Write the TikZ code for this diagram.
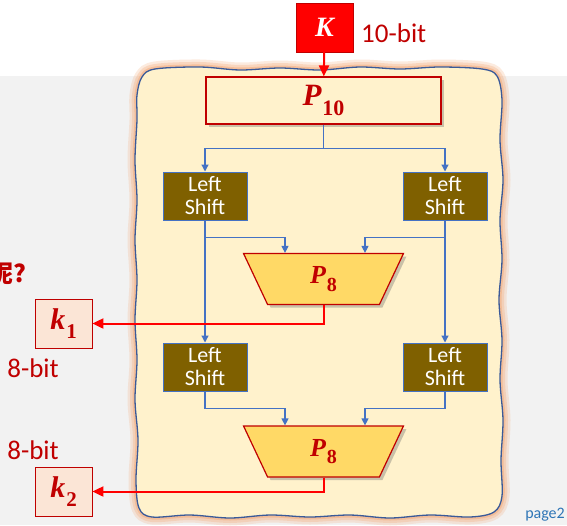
\documentclass[tikz,border=0pt]{standalone}
\usepackage{fontspec}
\setsansfont{Carlito}
\newfontfamily\symfont{Liberation Serif}
\newfontfamily\cjk{Noto Sans CJK SC}
\usetikzlibrary{arrows.meta,shapes.geometric,shadows}

\definecolor{darkred}{HTML}{C00000}
\definecolor{keyred}{HTML}{FF0000}
\definecolor{bggray}{HTML}{F2F2F2}
\definecolor{paleyellow}{HTML}{FFF2CC}
\definecolor{permyellow}{HTML}{FFD966}
\definecolor{shiftbrown}{HTML}{7F6000}
\definecolor{lineblue}{HTML}{4472C4}
\definecolor{frameblue}{HTML}{3A5A99}
\definecolor{glow}{HTML}{F4B183}
\definecolor{keypink}{HTML}{FBE5D6}
\definecolor{pageblue}{HTML}{2E75B6}

% symbol with a bold subscript
\newcommand\subsym[3]{{\symfont\bfseries\itshape #1}\kern1pt\raisebox{-0.3em}{\symfont\bfseries\fontsize{#3}{#3}\selectfont #2}}

% outline of the wavy frame
\newcommand\frameshape{plot[smooth cycle, tension=0.55] coordinates {
  (155,69) (200,67) (240,70) (280,68) (320,70) (360,67) (400,69) (440,67) (482,69)
  (497,76) (502,100) (500,140) (503,180) (500,220) (502,260) (499,300) (502,340)
  (500,380) (503,420) (501,460) (502,496) (494,512) (470,517) (430,515) (390,518)
  (350,515) (310,517) (270,515) (230,518) (190,515) (152,517) (139,508) (136,480)
  (138,440) (135,400) (137,360) (135,320) (137,280) (135,240) (137,200) (135,160)
  (137,120) (137,95) (142,77)}}

\tikzset{
  lshift/.style={draw=lineblue, line width=1pt, fill=shiftbrown, text=white, align=center,
    font=\sffamily\fontsize{22}{23}\selectfont, minimum width=84pt, minimum height=48pt, inner sep=0pt},
  permbox/.style={draw=darkred, line width=1.2pt, text=darkred, inner sep=0pt,
    drop shadow={shadow xshift=3pt, shadow yshift=-3pt, opacity=0.35, fill=black!60}},
  permtrap/.style={permbox, trapezium, shape border rotate=180, trapezium stretches=true,
    trapezium left angle=77, trapezium right angle=77, fill=permyellow,
    minimum width=160pt, minimum height=51pt},
  keybox/.style={draw=red!75!black, line width=0.8pt, fill=keypink, text=darkred,
    minimum width=57pt, minimum height=49pt, inner sep=0pt},
  bits/.style={text=darkred, font=\sffamily\fontsize{27}{27}\selectfont, inner sep=0pt},
  flow/.style={lineblue, line width=1.2pt, -{Triangle[width=7pt,length=7pt]}},
  keyline/.style={keyred, line width=2pt, -{Triangle[width=10pt,length=11pt]}}
}

\begin{document}
\begin{tikzpicture}[x=1pt, y=-1pt]
  % background
  \fill[white] (0,0) rectangle (567,76);
  \fill[bggray] (0,76) rectangle (567,525);
  \useasboundingbox (0,0) rectangle (567,525);

  % wavy frame with glow
  \draw[glow, line width=15pt, opacity=0.25] \frameshape;
  \draw[glow, line width=10pt, opacity=0.35] \frameshape;
  \draw[glow, line width=5pt, opacity=0.6] \frameshape;
  \draw[frameblue, line width=1.3pt, fill=paleyellow] \frameshape;

  % key and first permutation
  \node[draw=darkred, fill=keyred, text=white, minimum width=57pt, minimum height=49pt, inner sep=0pt,
    font=\symfont\bfseries\itshape\fontsize{28}{28}\selectfont] (K) at (324.5,27.5) {K};
  \node[bits, anchor=west] (bitsK) at (361,33.5) {10-bit};
  \node[permbox, fill=paleyellow, minimum width=235pt, minimum height=47pt,
    font=\fontsize{31}{31}\selectfont] (P10) at (323.5,100.5) {\subsym{P}{10}{22}};

  % shifts and P8
  \node[lshift] (ls11) at (205,196) {Left\\Shift};
  \node[lshift] (ls12) at (445,196) {Left\\Shift};
  \node[permtrap, font=\fontsize{26}{26}\selectfont] (p8a) at (323.5,279) {\subsym{P}{8}{20}};
  \node[lshift] (ls21) at (205,367) {Left\\Shift};
  \node[lshift] (ls22) at (445,367) {Left\\Shift};
  \node[permtrap, font=\fontsize{26}{26}\selectfont] (p8b) at (323.5,451.5) {\subsym{P}{8}{20}};

  % subkeys
  \node[keybox, font=\fontsize{30}{30}\selectfont] (k1) at (63.5,323.5) {\subsym{k}{1}{21}};
  \node[bits] (bits1) at (33,368) {8-bit};
  \node[bits] (bits2) at (33,450) {8-bit};
  \node[keybox, font=\fontsize{30}{30}\selectfont] (k2) at (63.5,491.5) {\subsym{k}{2}{21}};
  \node[text=darkred, font=\cjk\bfseries\fontsize{24}{24}\selectfont, anchor=east, inner sep=0pt]
    (ask) at (27,274) {呢?};
  \node[text=pageblue, font=\sffamily\fontsize{16}{16}\selectfont, anchor=east, inner sep=0pt]
    (page) at (565,515) {page2};

  % connectors
  \draw[keyline] (K) -- (P10);
  \draw[flow] (P10.south) -- ++(0,23.5) -| (ls11.north);
  \draw[flow] (P10.south) -- ++(0,23.5) -| (ls12.north);
  \draw[flow] (ls11) -- (ls21);
  \draw[flow] (ls12) -- (ls22);
  \draw[flow] (ls11.south) -- ++(0,17) -| ([xshift=-38.5pt]p8a.north);
  \draw[flow] (ls12.south) -- ++(0,17) -| ([xshift=41.5pt]p8a.north);
  \draw[flow] (ls21.south) -- ++(0,17) -| ([xshift=-38.5pt]p8b.north);
  \draw[flow] (ls22.south) -- ++(0,17) -| ([xshift=41.5pt]p8b.north);
  \draw[keyline] (p8a.south) |- (k1.east);
  \draw[keyline] (p8b.south) |- (k2.east);
\end{tikzpicture}
\end{document}
